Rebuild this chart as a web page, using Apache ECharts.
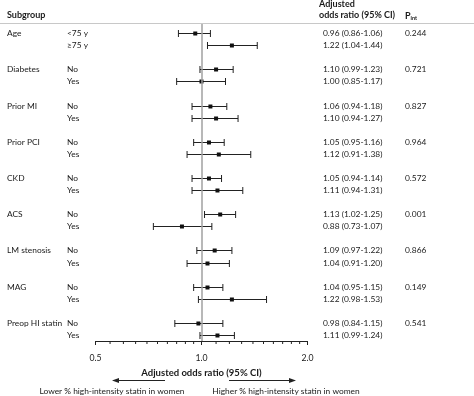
<!DOCTYPE html>
<html><head><meta charset="utf-8">
<script src="https://cdn.jsdelivr.net/npm/echarts@6/dist/echarts.min.js"></script>
<style>html,body{margin:0;padding:0;background:#fff}#c{width:474px;height:396px}</style>
</head><body><div id="c"></div>
<script>
const subgroups = ['Age','Diabetes','Prior MI','Prior PCI','CKD','ACS','LM stenosis','MAG','Preop HI statin'];
const levels = [['<75 y','\u226575 y'],['No','Yes'],['No','Yes'],['No','Yes'],['No','Yes'],['No','Yes'],['No','Yes'],['No','Yes'],['No','Yes']];
const est = [0.96,1.22,1.10,1.00,1.06,1.10,1.05,1.12,1.05,1.11,1.13,0.88,1.09,1.04,1.04,1.22,0.98,1.11];
const lo  = [0.86,1.04,0.99,0.85,0.94,0.94,0.95,0.91,0.94,0.94,1.02,0.73,0.97,0.91,0.95,0.98,0.84,0.99];
const hi  = [1.06,1.44,1.23,1.17,1.18,1.27,1.16,1.38,1.14,1.31,1.25,1.07,1.22,1.20,1.15,1.53,1.15,1.24];
const pInt = ['0.244','0.721','0.827','0.964','0.572','0.001','0.866','0.149','0.541'];
const xTicks = [0.5, 1.0, 2.0];
const minorTicks = [0.55,0.6,0.65,0.7,0.75,0.8,0.85,0.9,0.95,1.1,1.2,1.3,1.4,1.5,1.6,1.7,1.8,1.9];

const FONT = 'Lato';
const TXT = '#1a1a1a';
const FS = 8.4;
const HFS = 9;
const rows = [];
subgroups.forEach((g, gi) => levels[gi].forEach((l, li) => {
  const k = gi * 2 + li;
  rows.push([est[k], gi * 3 + li, lo[k], hi[k], gi, li]);
}));
const fmt = v => v.toFixed(2);

function renderRow(params, api) {
  const k = params.dataIndex;
  const gi = Math.floor(k / 2), li = k % 2;
  const yv = gi * 3 + li;
  const pL = api.coord([lo[k], yv]);
  const pH = api.coord([hi[k], yv]);
  const pE = api.coord([est[k], yv]);
  const y = Math.round(pE[1]) + 0.5;
  const cap = 3.5, s = 4;
  const st = {stroke: '#222', lineWidth: 1};
  const tx = (text, x) => ({type: 'text', style: {text, x, y: y, fill: TXT, fontSize: FS, fontFamily: FONT, verticalAlign: 'middle', align: 'left'}});
  const ch = [
    {type: 'line', shape: {x1: pL[0], y1: y, x2: pH[0], y2: y}, style: st},
    {type: 'line', shape: {x1: pL[0], y1: y - cap, x2: pL[0], y2: y + cap}, style: st},
    {type: 'line', shape: {x1: pH[0], y1: y - cap, x2: pH[0], y2: y + cap}, style: st},
    {type: 'rect', shape: {x: pE[0] - s / 2, y: y - s / 2, width: s, height: s}, style: {fill: '#111'}},
    tx(levels[gi][li], 67),
    tx(fmt(est[k]) + ' (' + fmt(lo[k]) + '-' + fmt(hi[k]) + ')', 323)
  ];
  if (li === 0) {
    ch.push(tx(subgroups[gi], 7));
    ch.push(tx(pInt[gi], 405));
  }
  return {type: 'group', children: ch};
}

function renderTick(params, api) {
  const p = api.coord([api.value(0), 25.5]);
  return {type: 'line', shape: {x1: p[0], y1: p[1], x2: p[0], y2: p[1] + 3}, style: {stroke: '#222', lineWidth: 1}};
}

const chart = echarts.init(document.getElementById('c'), null, {renderer: 'canvas'});
chart.setOption({
  animation: false,
  backgroundColor: '#fff',
  grid: {left: 95.5, width: 212, top: 24, height: 317},
  xAxis: {
    type: 'log', logBase: 2, min: xTicks[0], max: xTicks[xTicks.length - 1],
    axisLine: {onZero: false, lineStyle: {color: '#222', width: 1}},
    axisTick: {length: 4, lineStyle: {color: '#222'}},
    splitLine: {show: false},
    axisLabel: {formatter: v => Number(v).toFixed(1), fontSize: 8.7, fontFamily: FONT, color: TXT, margin: 13},
    name: 'Adjusted odds ratio (95% CI)', nameLocation: 'middle', nameGap: 27,
    nameTextStyle: {fontSize: 9.5, fontWeight: 'bold', fontFamily: FONT, color: TXT}
  },
  yAxis: {type: 'value', inverse: true, min: -0.75, max: 25.5, show: false},
  series: [
    {
      type: 'custom', renderItem: renderRow, data: rows, clip: false,
      encode: {x: 0, y: 1},
      markLine: {silent: true, symbol: 'none', label: {show: false},
        lineStyle: {color: '#a0a0a0', width: 1.5, type: 'solid'}, data: [{xAxis: 1}]}
    },
    {type: 'custom', renderItem: renderTick, data: minorTicks.map(v => [v, 25.5]), clip: false, encode: {x: 0, y: 1}, silent: true}
  ],
  graphic: [
    {type: 'line', shape: {x1: 0, y1: 23.5, x2: 474, y2: 23.5}, style: {stroke: '#c8c8c8', lineWidth: 1}},
    {type: 'text', style: {text: 'Subgroup', x: 7, y: 15, fill: TXT, fontSize: HFS, fontWeight: 'bold', fontFamily: FONT, verticalAlign: 'middle'}},
    {type: 'text', style: {text: 'Adjusted', x: 319, y: 4, fill: TXT, fontSize: HFS, fontWeight: 'bold', fontFamily: FONT, verticalAlign: 'middle'}},
    {type: 'text', style: {text: 'odds ratio (95% CI)', x: 319, y: 15, fill: TXT, fontSize: HFS, fontWeight: 'bold', fontFamily: FONT, verticalAlign: 'middle'}},
    {type: 'text', style: {text: '{a|P}{b|int}', x: 405, y: 16, verticalAlign: 'middle', rich: {
      a: {fontSize: HFS, fontWeight: 'bold', fontFamily: FONT, fill: TXT},
      b: {fontSize: 5.5, fontWeight: 'bold', fontFamily: FONT, fill: TXT, padding: [5, 0, 0, 0]}}}},
    {type: 'line', shape: {x1: 165, y1: 380.5, x2: 117, y2: 380.5}, style: {stroke: '#222', lineWidth: 1}},
    {type: 'polygon', shape: {points: [[112, 380.5], [119, 378], [119, 383]]}, style: {fill: '#222'}},
    {type: 'line', shape: {x1: 229, y1: 380.5, x2: 291, y2: 380.5}, style: {stroke: '#222', lineWidth: 1}},
    {type: 'polygon', shape: {points: [[296, 380.5], [289, 378], [289, 383]]}, style: {fill: '#222'}},
    {type: 'text', style: {text: 'Lower % high-intensity statin in women', x: 112, y: 391, fill: TXT, fontSize: FS, fontFamily: FONT, align: 'center', verticalAlign: 'middle'}},
    {type: 'text', style: {text: 'Higher % high-intensity statin in women', x: 286, y: 391, fill: TXT, fontSize: FS, fontFamily: FONT, align: 'center', verticalAlign: 'middle'}}
  ]
});
</script></body></html>
